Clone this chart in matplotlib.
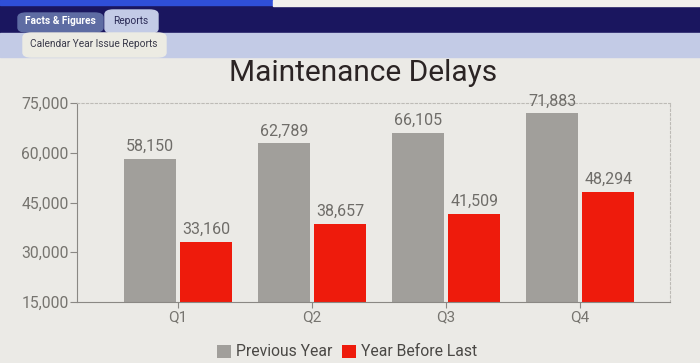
import matplotlib
matplotlib.use("Agg")
import matplotlib.pyplot as plt
from matplotlib.patches import Rectangle, FancyBboxPatch
import numpy as np

categories = ["Q1", "Q2", "Q3", "Q4"]
previous_year = [58150, 62789, 66105, 71883]
year_before_last = [33160, 38657, 41509, 48294]
yticks = [15000, 30000, 45000, 60000, 75000]

plt.rcParams['font.family'] = ['Roboto', 'DejaVu Sans']

W, H = 700, 363
fig = plt.figure(figsize=(7, 3.63), dpi=100)
fig.patch.set_facecolor('#ebeae6')

def fx(x): return x / W
def fy(y): return 1 - y / H

# header bands
fig.add_artist(Rectangle((0, fy(33)), 1, 33 / H, transform=fig.transFigure, color='#1a165f', zorder=0))
fig.add_artist(Rectangle((0, fy(5)), fx(273), 5 / H, transform=fig.transFigure, color='#2f4fd8', zorder=1))
fig.add_artist(Rectangle((fx(273), fy(6)), 1, 6 / H, transform=fig.transFigure, color='#f1f0ec', zorder=1))
fig.add_artist(Rectangle((0, fy(57)), 1, 24 / H, transform=fig.transFigure, color='#c3cbe6', zorder=0))
# tabs
fig.add_artist(FancyBboxPatch((fx(18), fy(32)), fx(85), 19 / H, boxstyle="round,pad=0,rounding_size=0.012",
                              transform=fig.transFigure, color='#5e6ca3', zorder=2))
fig.text(fx(60), fy(21), "Facts & Figures", color='white', fontsize=7.3, fontweight='bold', ha='center', va='center', zorder=3)
fig.add_artist(FancyBboxPatch((fx(105), fy(33)), fx(53), 23 / H, boxstyle="round,pad=0,rounding_size=0.012",
                              transform=fig.transFigure, color='#c3cbe6', zorder=2))
fig.text(fx(131), fy(21), "Reports", color='#2a2a55', fontsize=7.3, ha='center', va='center', zorder=3)
fig.add_artist(FancyBboxPatch((fx(23), fy(57)), fx(143), 24 / H, boxstyle="round,pad=0,rounding_size=0.012",
                              transform=fig.transFigure, color='#ecebe3', zorder=2))
fig.text(fx(94), fy(44), "Calendar Year Issue Reports", color='#3a3a4a', fontsize=7.3, ha='center', va='center', zorder=3)

# title
fig.text(fx(363), fy(73), "Maintenance Delays", color='#2b2424', fontsize=21.5, ha='center', va='center')

# axes
left, right, top, bottom = 77, 670, 103, 302
ax = fig.add_axes([fx(left), fy(bottom), fx(right - left), (bottom - top) / H])
ax.set_facecolor('none')
x = np.arange(len(categories))
w = 0.39
off = 0.21
gray = '#a19f9b'
red = '#ee1b0c'
b1 = ax.bar(x - off, previous_year, w, color=gray, label='Previous Year', zorder=2)
b2 = ax.bar(x + off, year_before_last, w, color=red, label='Year Before Last', zorder=2)
for bars, vals in ((b1, previous_year), (b2, year_before_last)):
    for r, v in zip(bars, vals):
        ax.text(r.get_x() + r.get_width() / 2, v + 1500, f"{v:,}", ha='center', va='bottom',
                fontsize=11.5, color='#6f6d69')

ax.set_ylim(15000, 75000)
ax.set_xlim(-0.754, 3.67)
ax.set_yticks(yticks)
ax.set_yticklabels([f"{t:,}" for t in yticks], fontsize=11.3, color='#76746f')
ax.set_xticks(x)
ax.set_xticklabels(categories, fontsize=11, color='#76746f')
ax.tick_params(axis='y', length=5, color='#8a8884', pad=1)
ax.tick_params(axis='x', length=4, color='#8a8884', pad=2)
for s in ('top', 'right'):
    ax.spines[s].set_linestyle((0, (2, 2)))
    ax.spines[s].set_color('#bdbbb6')
    ax.spines[s].set_linewidth(0.8)
ax.spines['left'].set_color('#8a8884')
ax.spines['bottom'].set_color('#8a8884')

fig.legend(handles=[b1, b2], loc='center', bbox_to_anchor=(fx(347), fy(352)), ncol=2, frameon=False,
           fontsize=11.3, handlelength=0.9, handleheight=0.9, handletextpad=0.3, columnspacing=0.6,
           labelcolor='#4a4845')

fig.savefig('out.png', dpi=100, facecolor=fig.get_facecolor())
